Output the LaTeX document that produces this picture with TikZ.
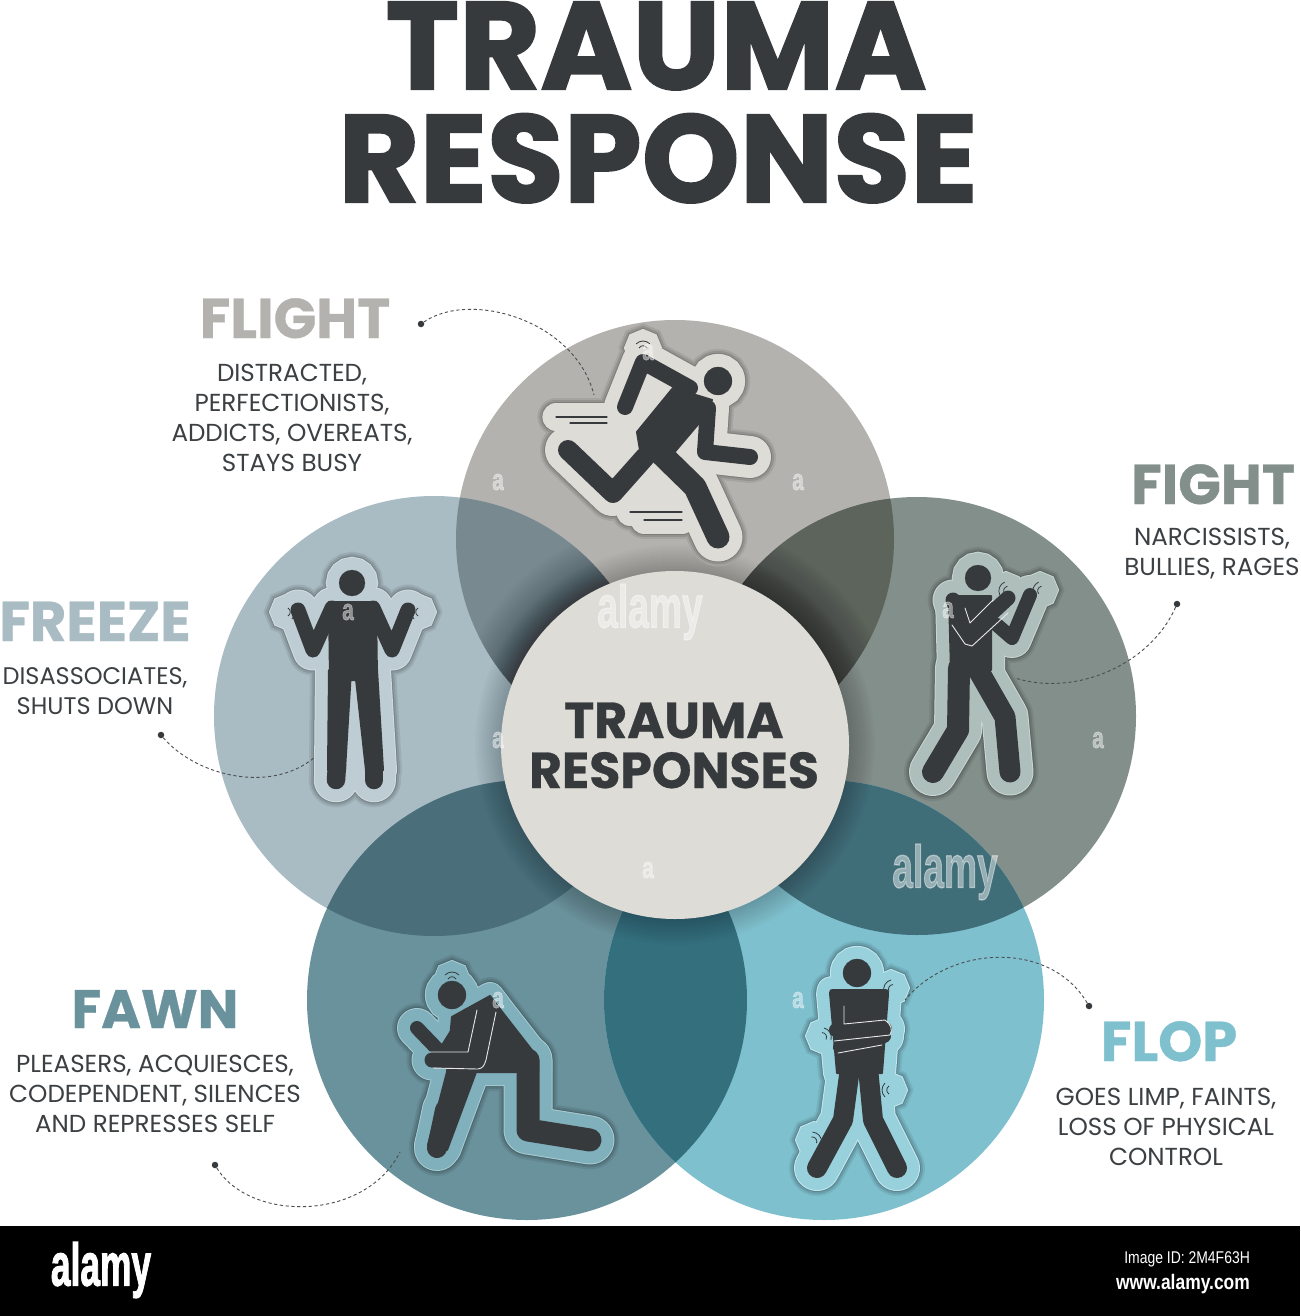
\documentclass[tikz,border=0pt]{standalone}
\usepackage{fontspec}
\setmainfont{Poppins}
\newfontfamily\pophead[FakeBold=1.8,LetterSpace=0.4]{Poppins Bold}
\newfontfamily\poplab[FakeBold=0.6]{Poppins Bold}
\newfontfamily\wmfont[FakeBold=2.2]{Liberation Sans Bold}
\newfontfamily\idfont{Liberation Sans}
\newfontfamily\urlfont{Liberation Sans Bold}
\definecolor{ink}{HTML}{363A3D}
\definecolor{txt}{HTML}{3C4043}
\definecolor{cFlight}{HTML}{B4B2AE}
\definecolor{cFight}{HTML}{838F8B}
\definecolor{cFreeze}{HTML}{A9BBC3}
\definecolor{cFawn}{HTML}{6A929C}
\definecolor{cFlop}{HTML}{7FC0CF}
\definecolor{cCentre}{HTML}{DEDCD6}
\definecolor{oA}{HTML}{78898F}
\definecolor{oB}{HTML}{5C645C}
\definecolor{oC}{HTML}{4A6F7A}
\definecolor{oD}{HTML}{3F6D78}
\definecolor{oE}{HTML}{346F7D}
\definecolor{hFightC}{HTML}{AEBFBB}
\definecolor{bFightC}{HTML}{C9D6D3}
\definecolor{hFreezeC}{HTML}{BDCDD3}
\definecolor{bFreezeC}{HTML}{D0DCE0}
\definecolor{hFawnC}{HTML}{7FB0BC}
\definecolor{bFawnC}{HTML}{A6CBD3}
\definecolor{hFlopC}{HTML}{98D0DC}
\definecolor{bFlopC}{HTML}{C4E8EE}
\newif\ifhalopass
\newlength\exw
\newcommand\lb[2]{\draw[draw=cur,line width=\dimexpr#1pt+\exw\relax,line cap=round,line join=round] #2;}
\newcommand\tb[1]{\draw[draw=cur,fill=cur,line width=\dimexpr2pt+\exw\relax,line cap=round,line join=round] #1;}
\newcommand\hd[3]{\draw[draw=cur,fill=cur,line width=\dimexpr.2pt+\exw\relax] (#1,#2) circle (#3pt);}
\newcommand\hl[1]{\ifhalopass\draw[draw=cur,fill=cur,line width=\dimexpr.2pt+\exw\relax,line join=round] #1;\fi}
\newcommand\wl[1]{\ifhalopass\else\draw[draw=white!88!ink,line width=.9pt,line cap=round,line join=round] #1;\fi}
\newcommand\wv[3]{\ifhalopass\draw[draw=cur,fill=cur,line width=\dimexpr.2pt+\exw\relax] (#1,#2) circle (5pt);\else
 \draw[ink,line width=.8pt,shift={(#1,#2)},rotate=#3] (-4,0) .. controls (-2,-3) and (2,-3) .. (4,0) (-7,-4) .. controls (-3,-8) and (3,-8) .. (7,-4);\fi}
\newcommand\sticker[4]{%
 \setlength\exw{36pt}\colorlet{cur}{#1!92!black}\halopasstrue #4
 \setlength\exw{32pt}\colorlet{cur}{#1!82!black}#4
 \setlength\exw{28pt}\colorlet{cur}{#1!70!black}#4
 \setlength\exw{26pt}\colorlet{cur}{#2}#4
 \setlength\exw{24pt}\colorlet{cur}{#3}#4
 \setlength\exw{0pt}\colorlet{cur}{ink}\halopassfalse #4}
\tikzset{
 petal/.style={fill=#1,draw=none},
 title/.style={anchor=base,text=ink,font=\pophead\fontsize{124}{124}\selectfont,inner sep=0},
 head/.style={anchor=base,font=\poplab\fontsize{56}{56}\selectfont,inner sep=0},
 body/.style={anchor=center,align=center,text=txt,font=\fontsize{24.6}{30}\selectfont,inner sep=0},
 centre/.style={anchor=base,text=ink,font=\poplab\fontsize{50.5}{50.5}\selectfont,inner sep=0},
 lead/.style={draw=ink!90,line width=.9pt,dash pattern=on 3.2pt off 2.6pt},
 dot/.style={circle,fill=ink,inner sep=0,minimum size=6.5pt},
 wma/.style={text=white,text opacity=.45,font=\wmfont\fontsize{30}{30}\selectfont,xscale=.7,transform shape,inner sep=0},
 wmb/.style={text=white,text opacity=.45,font=\wmfont\fontsize{60}{60}\selectfont,xscale=.62,transform shape,inner sep=0},
}
\begin{document}
\begin{tikzpicture}[x=1pt,y=-1pt]
\useasboundingbox (0,0) rectangle (1300,1316);
\fill[white] (0,0) rectangle (1300,1316);
% petals
\fill[petal=cFlight] (675,539) circle (219pt);
\fill[petal=cFight] (917,716) circle (219pt);
\fill[petal=cFreeze] (434,716) circle (220pt);
\fill[petal=cFawn] (527,1000) circle (220pt);
\fill[petal=cFlop] (824,1000) circle (220pt);
% overlaps with the central shadow
\begin{scope}\clip (675,539) circle (219pt);\clip (434,716) circle (220pt);
 \fill[oA] (200,300) rectangle (900,1000);
 \foreach \r in {176,178,...,226}{\fill[black,opacity=.012] (675,745) circle (\r pt);}
\end{scope}
\begin{scope}\clip (675,539) circle (219pt);\clip (917,716) circle (219pt);
 \fill[oB] (500,300) rectangle (1200,1000);
 \foreach \r in {176,178,...,226}{\fill[black,opacity=.012] (675,745) circle (\r pt);}
\end{scope}
\begin{scope}\clip (434,716) circle (220pt);\clip (527,1000) circle (220pt);
 \fill[oC] (200,500) rectangle (900,1200);
\end{scope}
\begin{scope}\clip (917,716) circle (219pt);\clip (824,1000) circle (220pt);
 \fill[oD] (500,500) rectangle (1200,1200);
\end{scope}
\begin{scope}\clip (527,1000) circle (220pt);\clip (824,1000) circle (220pt);
 \fill[oE] (500,700) rectangle (900,1300);
\end{scope}
\foreach \r in {176,178,...,200}{\fill[black,opacity=.015] (675,745) circle (\r pt);}
\fill[cCentre] (675,745) circle (174pt);
% FLIGHT figure
\sticker{cFlight}{cCentre}{cCentre}{
 \hl{(625,407) -- (607,423) -- (590,432) -- (600,470) -- (640,505) -- (680,500) -- (700,440) -- cycle}
 \hd{718}{381}{14}
 \lb{16}{(625,407) -- (643,362) -- (690,388)}
 \tb{(673,388) -- (712,400) -- (700,422) -- (672,455) -- (640,450) -- (637,432) -- cycle}
 \lb{16}{(708,408) -- (705,452) -- (750,457)}
 \lb{20}{(645,457) -- (613,493) -- (568,450)}
 \lb{23}{(652,445) -- (695,487) -- (718,537)}
 \lb{1.2}{(556,417) -- (607,417)}
 \lb{1.2}{(570,423) -- (607,423)}
 \lb{1.2}{(630,512) -- (682,512)}
 \lb{1.2}{(644,520) -- (682,520)}
 \wv{643}{348}{0}
}
% FIGHT figure
\sticker{cFight}{bFightC}{hFightC}{
 \hd{978}{578}{13}
 \tb{(949,596) -- (991,596) -- (991,670) -- (951,672) -- cycle}
 \lb{22}{(959,668) -- (958,730) -- (933,772)}
 \lb{21}{(977,668) -- (1005,717) -- (1010,772)}
 \lb{15}{(953,600) -- (967,636) -- (1008,598)}
 \lb{14}{(997,625) -- (1012,638) -- (1030,595)}
 \wl{(965,608) -- (970,623) -- (993,600)}
 \wl{(952,625) -- (965,644) -- (972,646) -- (1008,613)}
 \wv{1006}{590}{70}
 \wv{1040}{590}{70}
}
% FREEZE figure
\sticker{cFreeze}{bFreezeC}{hFreezeC}{
 \hd{352}{583}{13}
 \tb{(329,602) -- (376,602) -- (377,680) -- (330,680) -- cycle}
 \tb{(329,670) -- (351,670) -- (345,770) -- (328,770) -- cycle}
 \tb{(355,670) -- (377,670) -- (383,770) -- (366,770) -- cycle}
 \lb{18.5}{(337,765) -- (336,780)}
 \lb{18.5}{(374,765) -- (374,780)}
 \lb{15}{(332,608) -- (313,650) -- (298,610)}
 \lb{15}{(373,608) -- (392,650) -- (408,610)}
 \wv{288}{612}{-90}
 \wv{418}{612}{90}
}
% FAWN figure
\sticker{cFawn}{bFawnC}{hFawnC}{
 \hd{452}{995}{14}
 \tb{(452,1017) -- (490,996) -- (503,1013) -- (538,1058) -- (538,1072) -- (447,1072) -- cycle}
 \tb{(447,1072) -- (476,1072) -- (447,1150) -- (428,1145) -- cycle}
 \lb{20}{(445,1110) -- (437,1148)}
 \lb{23}{(528,1060) -- (528,1130) -- (590,1140)}
 \lb{14}{(417,1028) -- (443,1055) -- (468,1015)}
 \lb{15}{(432,1060) -- (475,1062) -- (490,1007)}
 \wl{(430,1052) -- (468,1052) -- (477,1010)}
 \wl{(433,1068) -- (478,1069) .. controls (483,1068) and (484,1066) .. (486,1060) -- (496,1012)}
 \wv{452}{979}{0}
}
% FLOP figure
\sticker{cFlop}{bFlopC}{hFlopC}{
 \hd{857}{973}{14}
 \tb{(830,993) .. controls (830,990) and (831,990) .. (834,990) -- (883,990) .. controls (887,990) and (888,990) .. (888,994) -- (882,1073) -- (837,1073) -- cycle}
 \lb{20}{(850,1068) -- (843,1120) -- (817,1168)}
 \lb{20}{(868,1068) -- (873,1120) -- (897,1168)}
 \lb{14}{(836,1030) -- (885,1029)}
 \lb{14}{(840,1047) -- (884,1036)}
 \wl{(844,1006) -- (844,1024) -- (885,1020) .. controls (891,1024) and (893,1030) .. (890,1035) -- (834,1041)}
 \wl{(838,1053) -- (882,1045)}
 \wv{891}{988}{60}
 \wv{824}{1036}{-60}
 \wv{889}{1090}{90}
 \wv{814}{1140}{-50}
}
% connectors
\node[dot] (dFlight) at (421,324) {};
\node[dot] (dFight) at (1177,604) {};
\node[dot] (dFreeze) at (161,735) {};
\node[dot] (dFawn) at (215,1165) {};
\node[dot] (dFlop) at (1089,1006) {};
\coordinate (eFlight) at (594,395);
\coordinate (eFight) at (1015,678);
\coordinate (eFreeze) at (315,757);
\coordinate (eFawn) at (400,1152);
\coordinate (eFlop) at (905,1000);
\draw[lead] (dFlight) .. controls (470,290) and (575,320) .. (eFlight);
\draw[lead] (dFight) .. controls (1150,665) and (1075,697) .. (eFight);
\draw[lead] (dFreeze) .. controls (195,775) and (270,795) .. (eFreeze);
\draw[lead] (dFawn) .. controls (250,1222) and (365,1222) .. (eFawn);
\draw[lead] (dFlop) .. controls (1050,940) and (950,945) .. (eFlop);
% texts
\node[title] (t1) at (656,89) {TRAUMA};
\node[title] (t2) at (658,202) {RESPONSE};
\node[centre] (c1) at (674,738) {TRAUMA};
\node[centre] (c2) at (674,788) {RESPONSES};
\node[head,text=cFlight] (hFlight) at (295,338) {FLIGHT};
\node[head,text=cFight] (hFight) at (1213,504) {FIGHT};
\node[head,text=cFreeze] (hFreeze) at (95,641) {FREEZE};
\node[head,text=cFawn,font=\poplab\fontsize{54}{54}\selectfont] (hFawn) at (155,1028) {FAWN};
\node[head,text=cFlop] (hFlop) at (1169,1061) {FLOP};
\node[body] (bFlight) at (292,418) {DISTRACTED,\\PERFECTIONISTS,\\ADDICTS, OVEREATS,\\STAYS BUSY};
\node[body] (bFight) at (1212,554) {NARCISSISTS,\\BULLIES, RAGES};
\node[body,font=\fontsize{24}{30}\selectfont] (bFreeze) at (95,691) {DISASSOCIATES,\\SHUTS DOWN};
\node[body] (bFawn) at (155,1094) {PLEASERS, ACQUIESCES,\\CODEPENDENT, SILENCES\\AND REPRESSES SELF};
\node[body] (bFlop) at (1166,1127) {GOES LIMP, FAINTS,\\LOSS OF PHYSICAL\\CONTROL};
% watermark
\node[wmb] (w1) at (650,612) {alamy};
\node[wmb] (w2) at (945,872) {alamy};
\foreach \n/\p in {a/{498,482},b/{798,482},c/{498,740},d/{1098,740},e/{648,870},f/{798,1000},g/{498,1000},h/{648,352},i/{948,610},j/{348,612}}{
 \node[wma] (wa\n) at (\p) {a};}
% band
\fill[black] (0,1226) rectangle (1300,1316);
\node[wmb,text opacity=1,xscale=.95] (w3) at (101,1270) {alamy};
\node[anchor=east,text=white,font=\idfont\fontsize{17}{17}\selectfont,xscale=.82,transform shape,inner sep=0] (id) at (1250,1259) {Image ID: 2M4F63H};
\node[anchor=east,text=white,font=\urlfont\fontsize{21}{21}\selectfont,xscale=.83,transform shape,inner sep=0] (url) at (1250,1284) {www.alamy.com};
\end{tikzpicture}
\end{document}
